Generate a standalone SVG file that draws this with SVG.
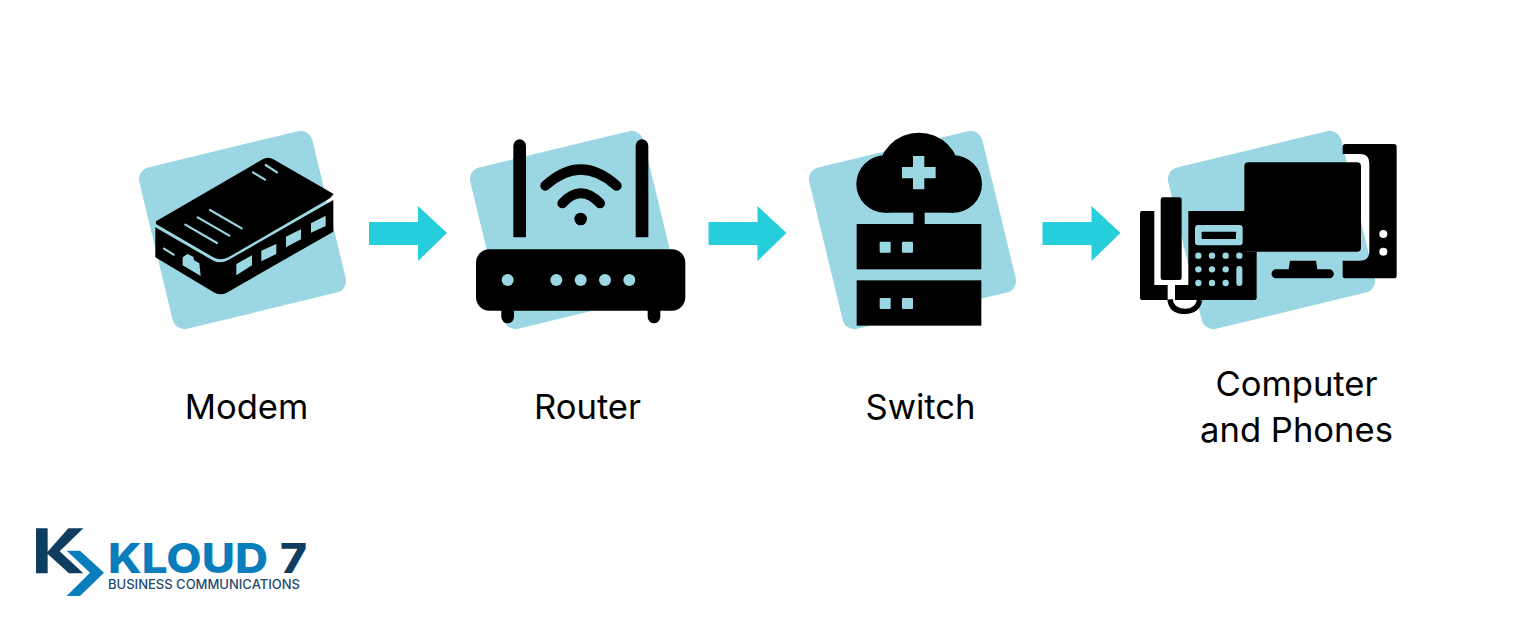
<svg xmlns="http://www.w3.org/2000/svg" width="1536" height="626" viewBox="0 0 1536 626">
<style>
.bd{fill:#9ad7e3}
.ar{fill:#26cedb}
.lt{fill:#9ad7e3}
.k{fill:#000}
.lb{font-family:"Inter","Liberation Sans",sans-serif;font-size:34.600px;fill:#000;text-anchor:middle}
.ln{stroke:#9ad7e3;stroke-width:6.500;stroke-linecap:round;fill:none}
</style>
<defs>
<rect id="back" class="bd" x="-89" y="-83" width="178" height="166" rx="12" transform="rotate(-13.6)"/>
<path id="arrow" class="ar" d="M0 16H49V0L78 27 49 55V39H0Z"/>
</defs>
<rect width="1536" height="626" fill="#fff"/>
<g id="connectors">
<use href="#arrow" x="369" y="206"/>
<use href="#arrow" x="708.500" y="206"/>
<use href="#arrow" x="1042.500" y="206"/>
</g>
<g id="modem">
<use href="#back" x="242.500" y="230"/>
<g transform="translate(130 120) scale(.33333)">
<path class="k" d="M78 304 398 118Q414 108 430 118L611 222 600 235 295 412Q272 424 250 412L78 312Z"/>
<path class="k" d="M76 322 250 422Q272 432 295 420L610 240V335L290 518Q270 528 250 516L76 412Z"/>
<g class="ln"><path d="M166 314 261 369M203 292 298 347M240 270 335 325M369 157 405 179M407 135 441 157M102 386 131 404"/></g>
<path class="lt" d="M158 412 172 402 190 410 192 420 208 430 212 468 158 436ZM319 432 366 406V436L319 466ZM394 392 439 372V402L394 424ZM468 350 513 328V358L468 382ZM543 310 587 287V318L543 338Z"/>
</g>
<text class="lb" x="246.500" y="419">Modem</text>
</g>
<g id="router">
<use href="#back" x="573.500" y="230"/>
<g transform="translate(460 120) scale(.33333)">
<path class="k" d="M160 352V77a19 19 0 0 1 38 0V352ZM527 352V77a19 19 0 0 1 38 0V352Z"/>
<rect class="k" x="48" y="388" width="628" height="184" rx="40"/>
<path class="k" d="M124 560H162V591a19 19 0 0 1-38 0ZM563 560H601V591a19 19 0 0 1-38 0Z"/>
<g fill="none" stroke="#000" stroke-width="30" stroke-linecap="round"><path d="M256 197Q362 100 470 197M307 250Q362 190 420 250"/></g>
<circle class="k" cx="362" cy="297" r="19"/>
<g class="lt"><circle cx="143" cy="480" r="18"/><circle cx="289" cy="480" r="18"/><circle cx="362" cy="480" r="18"/><circle cx="435" cy="480" r="18"/><circle cx="508" cy="480" r="18"/></g>
</g>
<text class="lb" x="587.500" y="419">Router</text>
</g>
<g id="switch">
<use href="#back" x="912.500" y="230"/>
<g transform="translate(800 120) scale(.33333)">
<g class="k"><circle cx="255" cy="192" r="86"/><circle cx="460" cy="192" r="86"/><path d="M234 161A123 123 0 0 1 480 161Z"/><rect x="255" y="130" width="205" height="148"/><rect x="340" y="270" width="34" height="50"/><rect x="170" y="312" width="374" height="136"/><rect x="170" y="481" width="374" height="136"/></g>
<path class="lt" d="M339 108H373V141H407V175H373V208H339V175H306V141H339Z"/>
<g class="lt"><rect x="239" y="365" width="33" height="33" rx="3"/><rect x="306" y="365" width="33" height="33" rx="3"/><rect x="239" y="534" width="33" height="33" rx="3"/><rect x="306" y="534" width="33" height="33" rx="3"/></g>
</g>
<text class="lb" x="920.500" y="419">Switch</text>
</g>
<g id="computer-phones">
<use href="#back" x="1271.500" y="230"/>
<g transform="translate(1130 130) scale(.33333)">
<path class="k" d="M646 42H792Q800 42 800 50V437Q800 445 792 445H646Q638 445 638 437V392H690Q718 392 718 365V100Q718 72 690 72H638V50Q638 42 646 42Z"/>
<circle cx="760" cy="312" r="12" fill="#fff"/><circle cx="760" cy="365" r="12" fill="#fff"/>
<rect class="k" x="343" y="97" width="350" height="268" rx="12"/>
<path class="k" d="M480 392H558L562 418H598a13.500 13.500 0 0 1 0 27H438a13.500 13.500 0 0 1 0-27H476Z"/>
<path class="k" d="M36 243H73V465H113V510H36Q30 510 30 504V249Q30 243 36 243ZM135 465H175V243H350V365H380V504Q380 510 374 510H135Z"/>
<rect class="k" x="92" y="202" width="63" height="248" rx="7"/>
<path d="M120 508Q124 544 165 544Q202 544 209 510" fill="none" stroke="#000" stroke-width="16"/>
<rect class="lt" x="195" y="285" width="143" height="61" rx="9"/>
<rect class="k" x="215" y="305" width="103" height="22" rx="2"/>
<g class="lt"><circle cx="205" cy="377" r="9.500"/><circle cx="246" cy="377" r="9.500"/><circle cx="287" cy="377" r="9.500"/><circle cx="328" cy="377" r="9.500"/><circle cx="205" cy="418" r="9.500"/><circle cx="246" cy="418" r="9.500"/><circle cx="287" cy="418" r="9.500"/><circle cx="205" cy="459" r="9.500"/><circle cx="246" cy="459" r="9.500"/><circle cx="287" cy="459" r="9.500"/><rect x="319" y="408" width="18" height="60" rx="9"/></g>
</g>
<text class="lb"><tspan x="1296.500" y="396">Computer</tspan><tspan x="1296.500" y="442">and Phones</tspan></text>
</g>
<g id="logo">
<g transform="translate(25 520) scale(.33333)">
<path fill="#0f3d60" d="M33 25H68V95L130 25H175L104 94 175 160H132L68 102V160H33Z"/>
<path fill="#0a7dbd" d="M125 92H165L237 158 165 228H125L195 158Z"/>
</g>
<text x="108" y="572.500" font-family="Inter,'Liberation Sans',sans-serif" font-weight="800" font-size="41" fill="#0a7dbd" textLength="160" lengthAdjust="spacingAndGlyphs">KLOUD</text>
<text x="280" y="572.500" font-family="Inter,'Liberation Sans',sans-serif" font-weight="800" font-size="41" fill="#0f3d60" textLength="27" lengthAdjust="spacingAndGlyphs">7</text>
<text x="108" y="589.300" font-family="Inter,'Liberation Sans',sans-serif" font-weight="500" font-size="12.800" fill="#1f4a6e" textLength="192" lengthAdjust="spacingAndGlyphs">BUSINESS COMMUNICATIONS</text>
</g>
</svg>
